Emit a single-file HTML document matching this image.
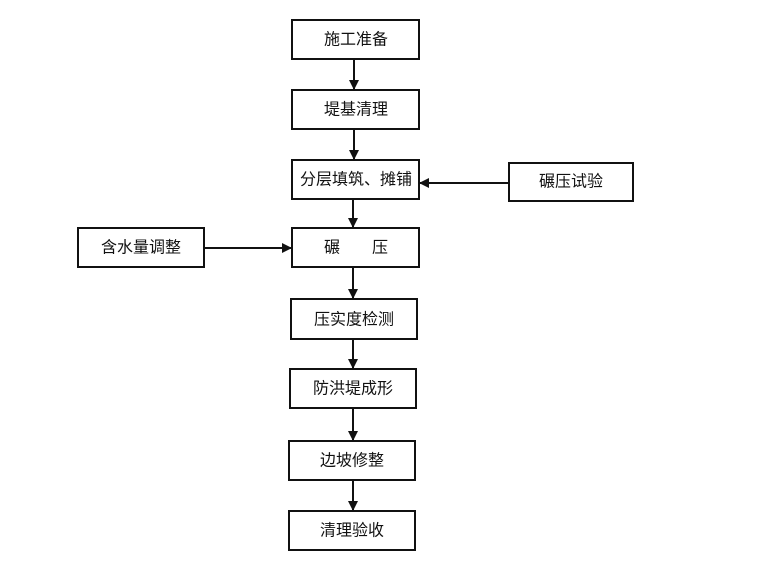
<!DOCTYPE html>
<html><head><meta charset="utf-8"><style>
html,body{margin:0;padding:0;background:#fff;}
svg text{font-family:"Liberation Sans","Noto Sans CJK SC",sans-serif;font-size:16px;fill:#111;text-anchor:middle;dominant-baseline:central;}
</style></head><body>
<svg width="760" height="570" viewBox="0 0 760 570" xmlns="http://www.w3.org/2000/svg">
<defs><marker id="a" markerWidth="10" markerHeight="10" refX="9" refY="5" orient="auto" markerUnits="userSpaceOnUse"><path d="M0,0 L10,5 L0,10 z" fill="#111"/></marker></defs>
<g fill="none" stroke="#111" stroke-width="2">
<rect x="292" y="20" width="127" height="39"/>
<rect x="292" y="90" width="127" height="39"/>
<rect x="292" y="160" width="127" height="39"/>
<rect x="509" y="163" width="124" height="38"/>
<rect x="292" y="228" width="127" height="39"/>
<rect x="78" y="228" width="126" height="39"/>
<rect x="291" y="299" width="126" height="40"/>
<rect x="290" y="369" width="126" height="39"/>
<rect x="289" y="441" width="126" height="39"/>
<rect x="289" y="511" width="126" height="39"/>
</g>
<g stroke="#111" stroke-width="2" marker-end="url(#a)">
<line x1="354" y1="59" x2="354" y2="89"/>
<line x1="354" y1="129" x2="354" y2="159"/>
<line x1="353" y1="199" x2="353" y2="227"/>
<line x1="509" y1="183" x2="420" y2="183"/>
<line x1="204" y1="248" x2="291" y2="248"/>
<line x1="353" y1="267" x2="353" y2="298"/>
<line x1="353" y1="339" x2="353" y2="368"/>
<line x1="353" y1="408" x2="353" y2="440"/>
<line x1="353" y1="480" x2="353" y2="510"/>
</g>
<text x="356" y="40">施工准备</text>
<text x="356" y="110">堤基清理</text>
<text x="356" y="180">分层填筑、摊铺</text>
<text x="571" y="182">碾压试验</text>
<text x="356" y="248">碾　　压</text>
<text x="141" y="248">含水量调整</text>
<text x="354" y="320">压实度检测</text>
<text x="353" y="389">防洪堤成形</text>
<text x="352" y="461">边坡修整</text>
<text x="352" y="531">清理验收</text>
</svg>
</body></html>
